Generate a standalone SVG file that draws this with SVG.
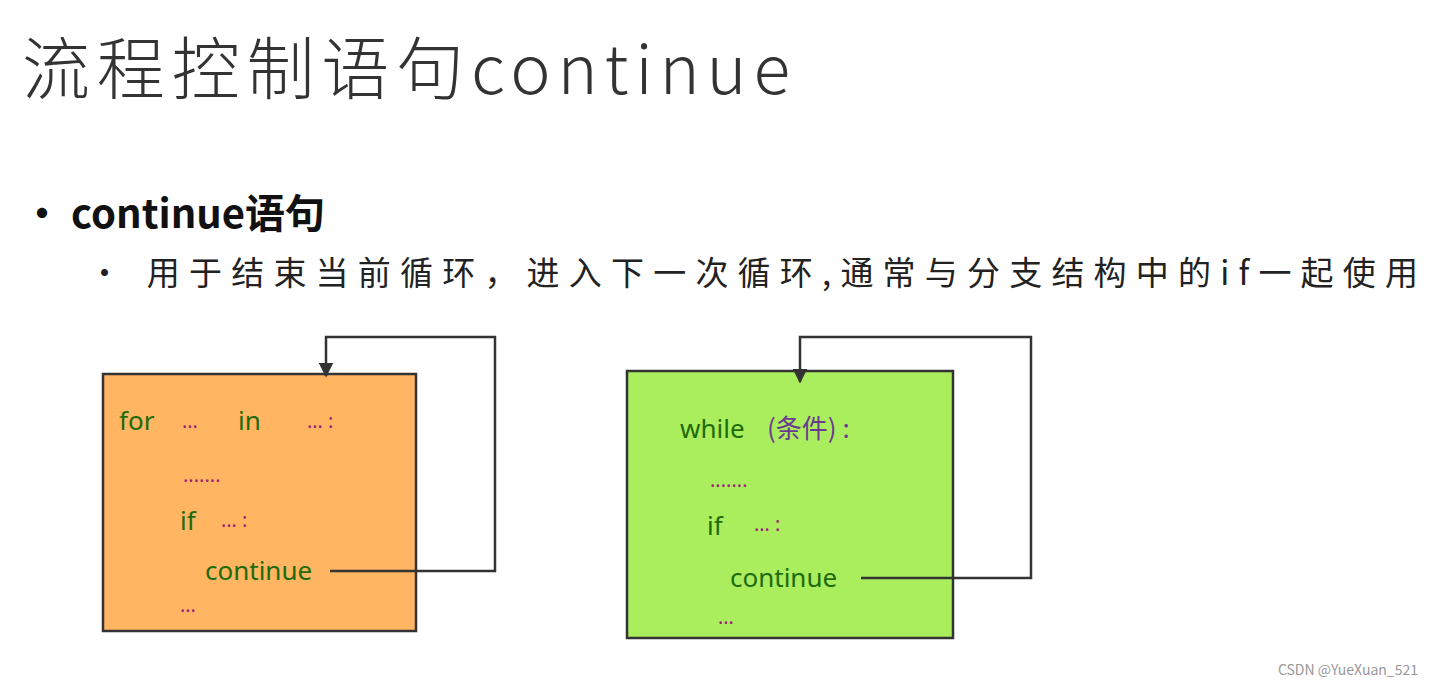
<svg xmlns="http://www.w3.org/2000/svg" width="1434" height="687" viewBox="0 0 1434 687">
<defs>
<marker id="arr" viewBox="0 0 10 10" refX="9" refY="5" markerWidth="6" markerHeight="6" orient="auto"><path d="M0,0 L10,5 L0,10 z" fill="#333"/></marker>
<style>
.t{font-family:"Noto Sans CJK SC","Noto Sans",sans-serif}
.kw{font-family:"Noto Sans","Noto Sans CJK SC",sans-serif;fill:#1d6b0a;font-size:26px}
.dt{font-family:"Noto Sans",sans-serif;fill:#a0207a;font-size:20px}
.box{stroke:#333;stroke-width:2.5}
.ln{fill:none;stroke:#333;stroke-width:2.5}
</style>
</defs>
<rect width="1434" height="687" fill="#fff"/>
<text class="t" x="22" y="94" font-size="68" font-weight="300" fill="#333" textLength="768">流程控制语句continue</text>
<text class="t" x="22" y="228" font-size="40" font-weight="bold" fill="#111">• continue语句</text>
<text class="t" x="88" y="285" font-size="33" fill="#222" textLength="1330">•  用于结束当前循环，进入下一次循环,通常与分支结构中的if一起使用</text>
<g id="forbox">
<rect class="box" x="103" y="374" width="313" height="257" fill="#ffb562"/>
<text class="kw" x="119" y="430">for</text><text class="dt" x="182" y="428">…</text>
<text class="kw" x="238" y="430">in</text><text class="dt" x="307" y="428">… :</text>
<text class="dt" x="183" y="482">.......</text>
<text class="kw" x="180" y="530">if</text><text class="dt" x="221" y="527">… :</text>
<text class="kw" x="205" y="580">continue</text>
<text class="dt" x="180" y="612">…</text>
</g>
<g id="whilebox">
<rect class="box" x="627" y="371" width="326" height="267" fill="#aaee5e"/>
<text class="kw" x="680" y="438">while</text>
<text class="t" x="767" y="438" font-size="26" fill="#6a3a90">(条件) :</text>
<text class="dt" x="710" y="487">.......</text>
<text class="kw" x="707" y="535">if</text><text class="dt" x="754" y="531">… :</text>
<text class="kw" x="730" y="587">continue</text>
<text class="dt" x="718" y="624">…</text>
</g>
<g id="connectors">
<path class="ln" d="M330,571 H495 V337 H326 V376" marker-end="url(#arr)"/>
<path class="ln" d="M861,578 H1031 V337 H800 V382" marker-end="url(#arr)"/>
</g>
<text class="t" x="1418" y="675" font-size="14" fill="#999" text-anchor="end">CSDN @YueXuan_521</text>
</svg>
